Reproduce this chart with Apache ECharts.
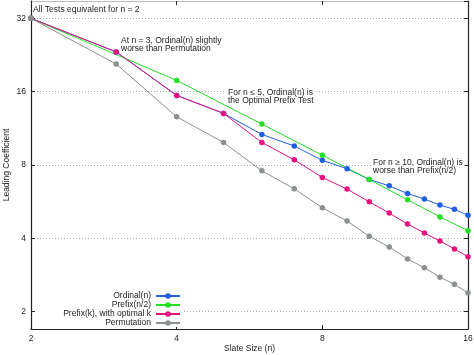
<!DOCTYPE html>
<html>
<head>
<meta charset="utf-8">
<script src="https://cdn.jsdelivr.net/npm/echarts@6/dist/echarts.min.js"></script>
<style>
html,body{margin:0;padding:0;background:#fff;}
#c{width:474px;height:355px;}
</style>
</head>
<body>
<div id="c"></div>
<script>
// ---- data ----
const slateSizes = [2, 3, 4, 5, 6, 7, 8, 9, 10, 11, 12, 13, 14, 15, 16];
const ordinal     = [32, 23.3, 15.45, 13.03, 10.68, 9.57, 8.36, 7.72, 6.98, 6.57, 6.11, 5.80, 5.48, 5.26, 4.98];
const prefixHalfSizes = [2, 4, 6, 8, 10, 12, 14, 16];
const prefixHalf  = [32, 17.8, 11.78, 8.78, 6.98, 5.76, 4.90, 4.30];
const prefixOpt   = [32, 23.3, 15.45, 13.03, 9.9, 8.40, 7.11, 6.37, 5.65, 5.08, 4.58, 4.21, 3.90, 3.62, 3.36];
const permutation = [32, 20.77, 12.62, 9.9, 7.57, 6.39, 5.34, 4.71, 4.08, 3.69, 3.29, 3.03, 2.77, 2.59, 2.39];
const seriesNames = ['Ordinal(n)', 'Prefix(n/2)', 'Prefix(k), with optimal k', 'Permutation'];
const xTicks = [2, 4, 8, 16];
const yTicks = [2, 4, 8, 16, 32];

const FONT = 'Liberation Sans, Arial, Helvetica, sans-serif';
const FS = 8.5;
const colors = ['#1f5fe6', '#22e022', '#e8117f', '#8b918f'];

function pairs(xs, ys) { return xs.map((x, i) => [x, ys[i]]); }

const chart = echarts.init(document.getElementById('c'), null, {renderer: 'canvas'});

const yMin = 1.698, yMax = 37.7;
const commonLine = (name, xs, ys, color) => ({
  name: name,
  type: 'line',
  data: pairs(xs, ys),
  symbol: 'circle',
  symbolSize: 5.5,
  lineStyle: {color: color, width: 1},
  itemStyle: {color: color},
  animation: false,
  emphasis: {disabled: true}
});

const tickFmt = v => {
  const r = Math.round(v);
  return (Math.abs(v - r) < 0.01) ? String(r) : '';
};

chart.setOption({
  animation: false,
  backgroundColor: '#fff',
  grid: {left: 31, right: 6, top: 1, bottom: 26, containLabel: false, outerBoundsMode: 'none'},
  xAxis: [{
    type: 'log', logBase: 2, min: 2, max: 16,
    name: 'Slate Size (n)', nameLocation: 'middle', nameGap: 20, nameMoveOverlap: false,
    nameTextStyle: {fontFamily: FONT, fontSize: FS, color: '#222', verticalAlign: 'middle'},
    axisLine: {lineStyle: {color: '#222', width: 1.2}},
    axisTick: {inside: true, length: 4, lineStyle: {color: '#222'}},
    axisLabel: {fontFamily: FONT, fontSize: FS, color: '#222', margin: 5, formatter: tickFmt, hideOverlap: false},
    splitLine: {show: false},
    minorTick: {show: false}
  }, {
    type: 'log', logBase: 2, min: 2, max: 16, position: 'top',
    axisLine: {lineStyle: {color: '#bbb', width: 1}},
    axisTick: {inside: true, length: 4, lineStyle: {color: '#222'}},
    axisLabel: {show: false},
    splitLine: {show: false}
  }],
  yAxis: [{
    type: 'log', logBase: 2, min: yMin, max: yMax,
    name: 'Leading Coefficient', nameLocation: 'middle', nameGap: 24, nameMoveOverlap: false,
    nameTextStyle: {fontFamily: FONT, fontSize: FS, color: '#222', verticalAlign: 'middle'},
    axisLine: {lineStyle: {color: '#222', width: 1.2}},
    axisTick: {inside: true, length: 4, lineStyle: {color: '#222'}},
    axisLabel: {fontFamily: FONT, fontSize: FS, color: '#222', margin: 5, formatter: tickFmt, showMinLabel: false, showMaxLabel: false},
    splitLine: {show: true, lineStyle: {color: '#aaa', type: [1, 2], width: 1}}
  }, {
    type: 'log', logBase: 2, min: yMin, max: yMax, position: 'right',
    axisLine: {lineStyle: {color: '#222', width: 1.2}},
    axisTick: {inside: true, length: 4, lineStyle: {color: '#222'}},
    axisLabel: {show: false},
    splitLine: {show: false}
  }],
  legend: {
    orient: 'vertical',
    align: 'right',
    right: 293,
    top: 291.5,
    padding: 0,
    itemGap: 0,
    itemWidth: 24,
    itemHeight: 7,
    selectedMode: false,
    textStyle: {fontFamily: FONT, fontSize: FS, color: '#222', lineHeight: 8.4},
    data: seriesNames
  },
  graphic: [
    {type: 'rect', z: 1, shape: {x: 36, y: 290, width: 147, height: 37}, style: {fill: '#fff'}},
    {type: 'text', z: 5, style: {x: 33, y: 5.5, text: 'All Tests equivalent for n = 2', font: FS + 'px ' + FONT, fill: '#222', lineHeight: 8.3}},
    {type: 'text', z: 5, style: {x: 121, y: 36.5, text: 'At n = 3, Ordinal(n) slightly\nworse than Permutation', font: FS + 'px ' + FONT, fill: '#222', lineHeight: 8.3}},
    {type: 'text', z: 5, style: {x: 226, y: 88.5, text: 'For n \u2264 5, Ordinal(n) is\nthe Optimal Prefix Test', font: FS + 'px ' + FONT, fill: '#222', lineHeight: 8.3, backgroundColor: '#fff', padding: [0, 2, 0, 2]}},
    {type: 'text', z: 5, style: {x: 371, y: 158.5, text: 'For n \u2265 10, Ordinal(n) is\nworse than Prefix(n/2)', font: FS + 'px ' + FONT, fill: '#222', lineHeight: 8.3, backgroundColor: '#fff', padding: [0, 2, 0, 2]}}
  ],
  series: [
    commonLine(seriesNames[0], slateSizes, ordinal, colors[0]),
    commonLine(seriesNames[1], prefixHalfSizes, prefixHalf, colors[1]),
    commonLine(seriesNames[2], slateSizes, prefixOpt, colors[2]),
    commonLine(seriesNames[3], slateSizes, permutation, colors[3])
  ]
});
</script>
</body>
</html>
